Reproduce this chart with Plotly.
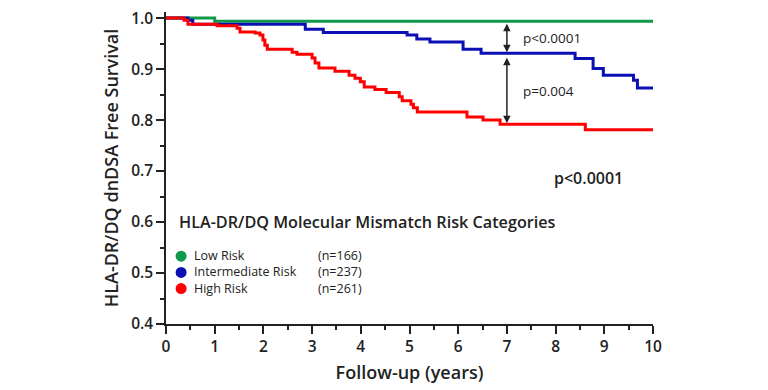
import plotly.graph_objects as go

# ---- data ----
low_t = [0, 1.0, 10]
low_s = [1.0, 0.994, 0.994]

int_t = [0, 0.45, 0.55, 2.86, 3.23, 4.95, 5.15, 5.42, 6.10, 6.47, 8.40, 8.77, 8.98, 9.60, 9.68, 10]
int_s = [1.0, 0.996, 0.988, 0.978, 0.972, 0.967, 0.959, 0.953, 0.939, 0.931, 0.921, 0.901, 0.888, 0.878, 0.863, 0.863]

high_t = [0, 0.37, 0.45, 1.05, 1.46, 1.52, 1.83, 1.93, 1.99, 2.03, 2.08, 2.59, 2.69, 3.00, 3.06,
          3.14, 3.47, 3.76, 3.88, 3.99, 4.07, 4.29, 4.52, 4.79, 4.85, 5.03, 5.08, 5.16, 6.18,
          6.51, 6.86, 8.61, 10]
high_s = [1.0, 0.996, 0.988, 0.985, 0.980, 0.973, 0.971, 0.967, 0.957, 0.947, 0.939, 0.933, 0.929,
          0.922, 0.912, 0.902, 0.896, 0.888, 0.882, 0.875, 0.865, 0.860, 0.854, 0.846, 0.838,
          0.831, 0.824, 0.816, 0.806, 0.800, 0.792, 0.781, 0.781]

groups = ["Low Risk", "Intermediate Risk", "High Risk"]
counts = ["(n=166)", "(n=237)", "(n=261)"]
colors = ["#0e9a48", "#0a10b4", "#ff0000"]

x_ticks = list(range(0, 11))
y_ticks = [0.4, 0.5, 0.6, 0.7, 0.8, 0.9, 1.0]

FONT = "Open Sans"
TXT = "#222222"

fig = go.Figure()
for t, s, c, n in zip([low_t, int_t, high_t], [low_s, int_s, high_s], colors, groups):
    fig.add_trace(go.Scatter(x=t, y=s, mode="lines", line=dict(color=c, width=3, shape="hv"),
                             name=n, showlegend=False, hoverinfo="skip"))

axis_common = dict(showline=True, linecolor=TXT, linewidth=1.5, ticks="outside", ticklen=8,
                   tickwidth=1.5, tickcolor=TXT, showgrid=False, zeroline=False,
                   tickfont=dict(family=FONT, size=15.5, color=TXT, weight=600))

fig.update_xaxes(range=[0, 10], tickvals=x_ticks, **axis_common,
                 minor=dict(dtick=0.5, ticks="outside", ticklen=4, tickwidth=1.5, tickcolor=TXT),
                 title=dict(text="Follow-up (years)", standoff=10,
                            font=dict(family=FONT, size=18, color=TXT, weight=600)))
fig.update_yaxes(range=[0.4, 1.012], tickvals=y_ticks, tickformat=".1f", **axis_common,
                 minor=dict(dtick=0.05, ticks="outside", ticklen=4, tickwidth=1.5, tickcolor=TXT),
                 title=dict(text="HLA-DR/DQ dnDSA Free Survival", standoff=8,
                            font=dict(family=FONT, size=18, color=TXT, weight=600)))

ann = []
# double-headed arrows at t = 7
for y0, y1 in [(0.992, 0.933), (0.925, 0.794)]:
    ann.append(dict(x=7, y=y1, ax=7, ay=y0, xref="x", yref="y", axref="x", ayref="y",
                    text="", showarrow=True, arrowhead=2, startarrowhead=2, arrowside="end+start",
                    arrowsize=1, arrowwidth=1.5, arrowcolor=TXT))
ann.append(dict(x=7.29, y=0.961, xref="x", yref="y", text="p&lt;0.0001", showarrow=False,
                xanchor="left", yanchor="middle", font=dict(family=FONT, size=13.5, color=TXT, weight=500)))
ann.append(dict(x=7.29, y=0.857, xref="x", yref="y", text="p=0.004", showarrow=False,
                xanchor="left", yanchor="middle", font=dict(family=FONT, size=13.5, color=TXT, weight=500)))
ann.append(dict(x=8.67, y=0.686, xref="x", yref="y", text="p&lt;0.0001", showarrow=False,
                xanchor="center", yanchor="middle", font=dict(family=FONT, size=16, color=TXT, weight=600)))
# legend block
ann.append(dict(x=0.226, y=0.600, xref="x", yref="y", text="HLA-DR/DQ Molecular Mismatch Risk Categories",
                showarrow=False, xanchor="left", yanchor="middle",
                font=dict(family=FONT, size=16.2, color=TXT, weight=600)))
ann.append(dict(x=0.555, y=0.502, xref="x", yref="y", text="<br>".join(groups), showarrow=False,
                xanchor="left", yanchor="middle", align="left", borderpad=0,
                font=dict(family=FONT, size=12.5, color=TXT, weight=500)))
ann.append(dict(x=3.10, y=0.502, xref="x", yref="y", text="<br>".join(counts), showarrow=False,
                xanchor="left", yanchor="middle", align="left", borderpad=0,
                font=dict(family=FONT, size=12.5, color=TXT, weight=500)))

shapes = []
for i, c in enumerate(colors):
    yy = 0.533 - i * 0.0318
    shapes.append(dict(type="circle", xref="x", yref="y", xsizemode="pixel", ysizemode="pixel",
                       xanchor=0.31, yanchor=yy, x0=-5.5, x1=5.5, y0=-5.5, y1=5.5,
                       fillcolor=c, line=dict(width=0)))

fig.update_layout(width=768, height=390, margin=dict(l=166, r=115, t=12, b=66, autoexpand=False),
                  plot_bgcolor="white", paper_bgcolor="white", annotations=ann, shapes=shapes,
                  showlegend=False)

fig.write_html("out.html")
